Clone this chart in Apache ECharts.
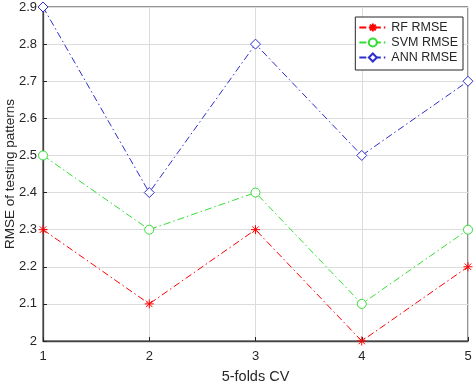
<!DOCTYPE html>
<html><head><meta charset="utf-8">
<script src="https://cdn.jsdelivr.net/npm/echarts@6/dist/echarts.min.js"></script>
<style>html,body{margin:0;padding:0;background:#fff}#c{width:474px;height:383px}</style>
</head><body><div id="c"></div>
<script>
const folds = [1, 2, 3, 4, 5];
const rfRmse = [2.3, 2.1, 2.3, 2.0, 2.2];
const svmRmse = [2.5, 2.3, 2.4, 2.1, 2.3];
const annRmse = [2.9, 2.4, 2.8, 2.5, 2.7];
const seriesNames = ['RF RMSE', 'SVM RMSE', 'ANN RMSE'];
const xTitle = '5-folds CV';
const yTitle = 'RMSE of testing patterns';

const star = 'path://M0,-5L0,5M-5,0L5,0M-3.6,-3.6L3.6,3.6M-3.6,3.6L3.6,-3.6';
const dashDot = [7, 3, 1.5, 3];
const font = 'Arial, "Liberation Sans", Helvetica, sans-serif';
const txt = '#262626';

function mk(name, vals, color, symbol, size) {
  return {
    name: name, type: 'line',
    data: folds.map((f, i) => [f, vals[i]]),
    symbol: symbol, symbolSize: size, showAllSymbol: true,
    clip: false,
    lineStyle: {color: color, width: 1, type: dashDot},
    itemStyle: {color: symbol === star ? color : '#fff', borderColor: color, borderWidth: 1},
    emphasis: {disabled: true}
  };
}

const chart = echarts.init(document.getElementById('c'));
chart.setOption({
  animation: false,
  backgroundColor: '#fff',
  grid: {left: 43, right: 6, top: 7, bottom: 42, show: true, borderColor: txt, borderWidth: 1,
         outerBoundsMode: 'none', containLabel: false},
  graphic: [{
    type: 'text', x: 10, y: 174, rotation: Math.PI / 2,
    style: {text: yTitle, fill: txt, font: '13.5px ' + font, align: 'center', verticalAlign: 'middle'}
  }],
  xAxis: {
    type: 'value', min: 1, max: 5, interval: 1,
    name: xTitle, nameLocation: 'middle', nameGap: 28,
    nameTextStyle: {color: txt, fontSize: 14.5, fontFamily: font},
    axisLine: {show: true, lineStyle: {color: '#444', width: 1.3}},
    axisTick: {show: true, inside: true, length: 4, lineStyle: {color: txt}},
    axisLabel: {color: txt, fontSize: 13, fontFamily: font, margin: 9},
    splitLine: {show: true, lineStyle: {color: '#dcdcdc'}}
  },
  yAxis: {
    type: 'value', min: 2, max: 2.9, interval: 0.1,
    axisLine: {show: true, lineStyle: {color: '#444', width: 1.3}},
    axisTick: {show: true, inside: true, length: 4, lineStyle: {color: txt}},
    axisLabel: {color: txt, fontSize: 13, fontFamily: font, margin: 6,
      formatter: v => String(+v.toFixed(1))},
    splitLine: {show: true, lineStyle: {color: '#dcdcdc'}}
  },
  legend: {
    data: seriesNames, orient: 'vertical', right: 11, top: 17,
    backgroundColor: '#fff', borderColor: txt, borderWidth: 1,
    padding: [4, 5, 6, 3], itemGap: 2, itemWidth: 27, itemHeight: 10,
    textStyle: {color: txt, fontSize: 12.5, fontFamily: font}
  },
  series: [
    mk(seriesNames[0], rfRmse, '#ff0000', star, 9),
    mk(seriesNames[1], svmRmse, '#33dd33', 'circle', 9),
    mk(seriesNames[2], annRmse, '#2e2ecc', 'diamond', 10)
  ]
});
</script></body></html>
